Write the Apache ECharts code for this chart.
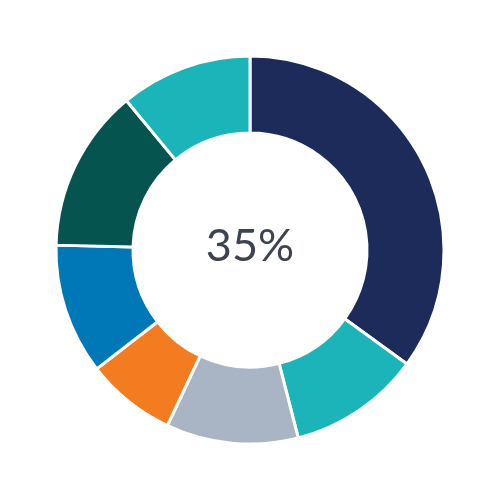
<!DOCTYPE html>
<html><head><meta charset="utf-8">
<script src="https://cdn.jsdelivr.net/npm/echarts@6/dist/echarts.min.js"></script>
<style>html,body{margin:0;padding:0;background:#fff}#c{width:500px;height:500px}</style>
</head><body><div id="c"></div>
<script>
const categories = ['A','B','C','D','E','F','G'];
const values = [35, 11, 11, 7.5, 10.9, 13.6, 11];
const colors = ['#1c2b5a','#1bb5b9','#a9b4c4','#f47c20','#0077b6','#065450','#1bb5b9'];
const centerLabel = '35%';

const chart = echarts.init(document.getElementById('c'));
chart.setOption({
  animation: false,
  graphic: [{type:'text', left:'center', top:224, style:{text:centerLabel, font:'400 45px Lato, "Open Sans", sans-serif', fill:'#3d4450'}}],
  series: [{
    type: 'pie',
    radius: [117, 194],
    center: ['50%','50%'],
    startAngle: 90,
    clockwise: true,
    label: {show:false},
    labelLine: {show:false},
    itemStyle: {borderColor:'#fff', borderWidth:3},
    data: categories.map((c,i)=>({name:c, value:values[i], itemStyle:{color:colors[i]}}))
  }]
});
</script></body></html>
